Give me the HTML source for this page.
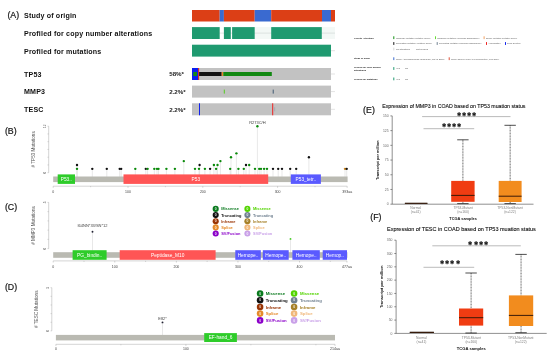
<!DOCTYPE html>
<html lang="en"><head><meta charset="utf-8"><title>Figure</title>
<style>
html,body{margin:0;padding:0;background:#fff;}
body{width:550px;height:358px;overflow:hidden;}
svg{display:block;font-family:"Liberation Sans", sans-serif;filter:blur(0.38px);}
</style></head><body>
<svg width="550" height="358" viewBox="0 0 550 358">
<rect width="550" height="358" fill="#fff"/>
<text x="7.4" y="17.6" font-size="8.8" font-weight="normal" fill="#1a1a1a" text-anchor="start" stroke="#1a1a1a" stroke-width="0.22" letter-spacing="0">(A)</text>
<text x="24" y="17.9" font-size="7.1" font-weight="bold" fill="#111" text-anchor="start" letter-spacing="0.17">Study of origin</text>
<text x="24" y="35.7" font-size="7.1" font-weight="bold" fill="#111" text-anchor="start" letter-spacing="0.17">Profiled for copy number alterations</text>
<text x="24" y="53.5" font-size="7.1" font-weight="bold" fill="#111" text-anchor="start" letter-spacing="0.17">Profiled for mutations</text>
<text x="24" y="76.8" font-size="7.1" font-weight="bold" fill="#111" text-anchor="start" letter-spacing="0.17">TP53</text>
<text x="24" y="94.4" font-size="7.1" font-weight="bold" fill="#111" text-anchor="start" letter-spacing="0.17">MMP3</text>
<text x="24" y="112.1" font-size="7.1" font-weight="bold" fill="#111" text-anchor="start" letter-spacing="0.17">TESC</text>
<text x="169.2" y="76.2" font-size="6.2" font-weight="bold" fill="#222" text-anchor="start" >58%*</text>
<text x="169.2" y="94" font-size="6.2" font-weight="bold" fill="#222" text-anchor="start" >2.2%*</text>
<text x="169.2" y="111.6" font-size="6.2" font-weight="bold" fill="#222" text-anchor="start" >2.2%*</text>
<rect x="192.00" y="10.00" width="27.70" height="11.50" fill="#dc3f16" />
<rect x="219.70" y="10.00" width="4.20" height="11.50" fill="#3a6ad0" />
<rect x="223.90" y="10.00" width="30.80" height="11.50" fill="#dc3f16" />
<rect x="254.70" y="10.00" width="16.50" height="11.50" fill="#3a6ad0" />
<rect x="271.20" y="10.00" width="50.80" height="11.50" fill="#dc3f16" />
<rect x="322.00" y="10.00" width="9.00" height="11.50" fill="#3a6ad0" />
<rect x="331.00" y="10.00" width="4.00" height="11.50" fill="#dc3f16" />
<rect x="254.70" y="27.10" width="16.50" height="11.90" fill="#f3f8f6" />
<rect x="322.00" y="27.10" width="13.00" height="11.90" fill="#f3f8f6" />
<line x1="192.00" y1="33.10" x2="335.00" y2="33.10" stroke="#cdd3d0" stroke-width="0.6" />
<rect x="192.00" y="27.10" width="27.70" height="11.90" fill="#1f9a70" />
<rect x="223.90" y="27.10" width="6.90" height="11.90" fill="#1f9a70" />
<rect x="232.10" y="27.10" width="22.60" height="11.90" fill="#1f9a70" />
<rect x="271.20" y="27.10" width="50.60" height="11.90" fill="#1f9a70" />
<line x1="331.00" y1="50.70" x2="335.00" y2="50.70" stroke="#cfcfcf" stroke-width="0.6" />
<rect x="192.00" y="44.70" width="139.00" height="11.90" fill="#1f9a70" />
<rect x="192.00" y="68.00" width="139.00" height="12.00" fill="#c2c2c2" />
<line x1="331.00" y1="74.00" x2="335.00" y2="74.00" stroke="#d0d0d0" stroke-width="0.6" />
<rect x="192.00" y="85.60" width="139.00" height="12.00" fill="#c2c2c2" />
<line x1="331.00" y1="91.60" x2="335.00" y2="91.60" stroke="#d0d0d0" stroke-width="0.6" />
<rect x="192.00" y="103.30" width="139.00" height="12.00" fill="#c2c2c2" />
<line x1="331.00" y1="109.30" x2="335.00" y2="109.30" stroke="#d0d0d0" stroke-width="0.6" />
<rect x="192.00" y="68.00" width="6.30" height="12.00" fill="#0a1cf0" />
<rect x="198.20" y="68.00" width="0.90" height="12.00" fill="#ee1111" />
<rect x="193.30" y="72.00" width="3.70" height="4.00" fill="#128a12" />
<rect x="199.10" y="72.00" width="22.60" height="4.00" fill="#111" />
<rect x="221.70" y="72.00" width="1.60" height="4.00" fill="#e8862a" />
<rect x="223.30" y="72.00" width="48.50" height="4.00" fill="#118811" />
<rect x="223.80" y="89.60" width="1.00" height="4.00" fill="#55cc22" />
<rect x="272.60" y="89.60" width="1.40" height="4.00" fill="#66788a" />
<rect x="199.00" y="103.30" width="1.00" height="12.00" fill="#1122ee" />
<rect x="272.20" y="103.30" width="1.00" height="12.00" fill="#ee2222" />
<rect x="274.00" y="107.30" width="1.20" height="4.00" fill="#a8b0b8" />
<text x="354" y="38.5" font-size="2.4" font-weight="bold" fill="#222" text-anchor="start" textLength="19.6" lengthAdjust="spacingAndGlyphs">Genetic Alteration</text>
<text x="354" y="59.300000000000004" font-size="2.4" font-weight="bold" fill="#222" text-anchor="start" textLength="16.0" lengthAdjust="spacingAndGlyphs">Study of origin</text>
<text x="354" y="68.1" font-size="2.4" font-weight="bold" fill="#222" text-anchor="start" textLength="27.0" lengthAdjust="spacingAndGlyphs">Profiled for copy number</text>
<text x="354" y="71.1" font-size="2.4" font-weight="bold" fill="#222" text-anchor="start" textLength="12.0" lengthAdjust="spacingAndGlyphs">alterations</text>
<text x="354" y="79.5" font-size="2.4" font-weight="bold" fill="#222" text-anchor="start" textLength="23.5" lengthAdjust="spacingAndGlyphs">Profiled for mutations</text>
<rect x="393.30" y="36.30" width="1.00" height="2.80" fill="#109010" />
<text x="396" y="38.6" font-size="2.4" font-weight="normal" fill="#555" text-anchor="start" textLength="34.5" lengthAdjust="spacingAndGlyphs">Missense Mutation (putative driver)</text>
<rect x="435.00" y="36.30" width="1.00" height="2.80" fill="#66dd33" />
<text x="437.2" y="38.6" font-size="2.4" font-weight="normal" fill="#555" text-anchor="start" textLength="42.3" lengthAdjust="spacingAndGlyphs">Missense Mutation (unknown significance)</text>
<rect x="483.60" y="36.30" width="1.00" height="2.80" fill="#f0a060" />
<text x="486" y="38.6" font-size="2.4" font-weight="normal" fill="#555" text-anchor="start" textLength="31.3" lengthAdjust="spacingAndGlyphs">Splice Mutation (putative driver)</text>
<rect x="393.30" y="42.10" width="1.00" height="2.80" fill="#111" />
<text x="396" y="44.4" font-size="2.4" font-weight="normal" fill="#555" text-anchor="start" textLength="36.0" lengthAdjust="spacingAndGlyphs">Truncating Mutation (putative driver)</text>
<rect x="436.70" y="42.10" width="1.00" height="2.80" fill="#708090" />
<text x="439" y="44.4" font-size="2.4" font-weight="normal" fill="#555" text-anchor="start" textLength="42.5" lengthAdjust="spacingAndGlyphs">Truncating Mutation (unknown significance)</text>
<rect x="486.00" y="42.10" width="1.00" height="2.80" fill="#ee2222" />
<text x="488.3" y="44.4" font-size="2.4" font-weight="normal" fill="#555" text-anchor="start" textLength="12.2" lengthAdjust="spacingAndGlyphs">Amplification</text>
<rect x="505.00" y="42.10" width="1.00" height="2.80" fill="#1122ee" />
<text x="507.3" y="44.4" font-size="2.4" font-weight="normal" fill="#555" text-anchor="start" textLength="13.2" lengthAdjust="spacingAndGlyphs">Deep Deletion</text>
<rect x="393.30" y="47.60" width="1.00" height="2.80" fill="#d8d8d8" />
<text x="396" y="49.9" font-size="2.4" font-weight="normal" fill="#555" text-anchor="start" textLength="14.0" lengthAdjust="spacingAndGlyphs">No alterations</text>
<text x="416" y="49.9" font-size="2.4" font-weight="normal" fill="#555" text-anchor="start" textLength="12.0" lengthAdjust="spacingAndGlyphs">Not profiled</text>
<rect x="393.30" y="57.30" width="1.00" height="2.80" fill="#3a6ad0" />
<text x="396" y="59.6" font-size="2.4" font-weight="normal" fill="#555" text-anchor="start" textLength="48.5" lengthAdjust="spacingAndGlyphs">Colon Adenocarcinoma (CaseCCC, PNAS 2015)</text>
<rect x="448.70" y="57.30" width="1.00" height="2.80" fill="#e05038" />
<text x="451" y="59.6" font-size="2.4" font-weight="normal" fill="#555" text-anchor="start" textLength="48.3" lengthAdjust="spacingAndGlyphs">Colon Cancer (CPTAC-2 Prospective, Cell 2019)</text>
<rect x="393.30" y="67.10" width="1.00" height="2.80" fill="#1f9a70" />
<text x="396" y="69.39999999999999" font-size="2.4" font-weight="normal" fill="#555" text-anchor="start" >Yes</text>
<text x="405" y="69.39999999999999" font-size="2.4" font-weight="normal" fill="#555" text-anchor="start" >No</text>
<rect x="393.30" y="77.50" width="1.00" height="2.80" fill="#1f9a70" />
<text x="396" y="79.8" font-size="2.4" font-weight="normal" fill="#555" text-anchor="start" >Yes</text>
<text x="405" y="79.8" font-size="2.4" font-weight="normal" fill="#555" text-anchor="start" >No</text>
<text x="4.9" y="134.3" font-size="8.8" font-weight="normal" fill="#1a1a1a" text-anchor="start" stroke="#1a1a1a" stroke-width="0.22" letter-spacing="0">(B)</text>
<line x1="48.70" y1="126.20" x2="48.70" y2="172.70" stroke="#a8a8a8" stroke-width="0.5" />
<line x1="47.50" y1="126.20" x2="48.70" y2="126.20" stroke="#a8a8a8" stroke-width="0.5" />
<line x1="47.50" y1="133.95" x2="48.70" y2="133.95" stroke="#a8a8a8" stroke-width="0.5" />
<line x1="47.50" y1="141.70" x2="48.70" y2="141.70" stroke="#a8a8a8" stroke-width="0.5" />
<line x1="47.50" y1="149.45" x2="48.70" y2="149.45" stroke="#a8a8a8" stroke-width="0.5" />
<line x1="47.50" y1="157.20" x2="48.70" y2="157.20" stroke="#a8a8a8" stroke-width="0.5" />
<line x1="47.50" y1="164.95" x2="48.70" y2="164.95" stroke="#a8a8a8" stroke-width="0.5" />
<line x1="47.50" y1="172.70" x2="48.70" y2="172.70" stroke="#a8a8a8" stroke-width="0.5" />
<text transform="translate(45.5,126.2) rotate(-90)" font-size="3.1" fill="#444" text-anchor="middle">12</text>
<text transform="translate(45.5,172.7) rotate(-90)" font-size="3.1" fill="#444" text-anchor="middle">0</text>
<text transform="translate(34.5,149.45) rotate(-90)" font-size="4.65" fill="#555" text-anchor="middle"># TP53 Mutations</text>
<line x1="77.00" y1="168.82" x2="77.00" y2="177.00" stroke="#d0d0d0" stroke-width="0.5" />
<line x1="77.00" y1="164.95" x2="77.00" y2="177.00" stroke="#d0d0d0" stroke-width="0.5" />
<line x1="92.30" y1="168.82" x2="92.30" y2="177.00" stroke="#d0d0d0" stroke-width="0.5" />
<line x1="106.80" y1="168.82" x2="106.80" y2="177.00" stroke="#d0d0d0" stroke-width="0.5" />
<line x1="119.70" y1="168.82" x2="119.70" y2="177.00" stroke="#d0d0d0" stroke-width="0.5" />
<line x1="121.20" y1="168.82" x2="121.20" y2="177.00" stroke="#d0d0d0" stroke-width="0.5" />
<line x1="135.30" y1="168.82" x2="135.30" y2="177.00" stroke="#d0d0d0" stroke-width="0.5" />
<line x1="145.80" y1="168.82" x2="145.80" y2="177.00" stroke="#d0d0d0" stroke-width="0.5" />
<line x1="147.60" y1="168.82" x2="147.60" y2="177.00" stroke="#d0d0d0" stroke-width="0.5" />
<line x1="154.30" y1="168.82" x2="154.30" y2="177.00" stroke="#d0d0d0" stroke-width="0.5" />
<line x1="157.00" y1="168.82" x2="157.00" y2="177.00" stroke="#d0d0d0" stroke-width="0.5" />
<line x1="158.50" y1="168.82" x2="158.50" y2="177.00" stroke="#d0d0d0" stroke-width="0.5" />
<line x1="166.40" y1="168.82" x2="166.40" y2="177.00" stroke="#d0d0d0" stroke-width="0.5" />
<line x1="174.90" y1="168.82" x2="174.90" y2="177.00" stroke="#d0d0d0" stroke-width="0.5" />
<line x1="183.80" y1="161.07" x2="183.80" y2="177.00" stroke="#d0d0d0" stroke-width="0.5" />
<line x1="195.00" y1="168.82" x2="195.00" y2="177.00" stroke="#d0d0d0" stroke-width="0.5" />
<line x1="199.00" y1="168.82" x2="199.00" y2="177.00" stroke="#d0d0d0" stroke-width="0.5" />
<line x1="199.60" y1="164.95" x2="199.60" y2="177.00" stroke="#d0d0d0" stroke-width="0.5" />
<line x1="204.90" y1="168.82" x2="204.90" y2="177.00" stroke="#d0d0d0" stroke-width="0.5" />
<line x1="210.10" y1="168.82" x2="210.10" y2="177.00" stroke="#d0d0d0" stroke-width="0.5" />
<line x1="213.90" y1="164.95" x2="213.90" y2="177.00" stroke="#d0d0d0" stroke-width="0.5" />
<line x1="216.10" y1="168.82" x2="216.10" y2="177.00" stroke="#d0d0d0" stroke-width="0.5" />
<line x1="217.50" y1="164.95" x2="217.50" y2="177.00" stroke="#d0d0d0" stroke-width="0.5" />
<line x1="220.40" y1="161.07" x2="220.40" y2="177.00" stroke="#d0d0d0" stroke-width="0.5" />
<line x1="230.20" y1="168.82" x2="230.20" y2="177.00" stroke="#d0d0d0" stroke-width="0.5" />
<line x1="231.00" y1="157.20" x2="231.00" y2="177.00" stroke="#d0d0d0" stroke-width="0.5" />
<line x1="236.40" y1="153.32" x2="236.40" y2="177.00" stroke="#d0d0d0" stroke-width="0.5" />
<line x1="238.40" y1="168.82" x2="238.40" y2="177.00" stroke="#d0d0d0" stroke-width="0.5" />
<line x1="243.80" y1="168.82" x2="243.80" y2="177.00" stroke="#d0d0d0" stroke-width="0.5" />
<line x1="246.00" y1="164.95" x2="246.00" y2="177.00" stroke="#d0d0d0" stroke-width="0.5" />
<line x1="249.20" y1="164.95" x2="249.20" y2="177.00" stroke="#d0d0d0" stroke-width="0.5" />
<line x1="255.00" y1="168.82" x2="255.00" y2="177.00" stroke="#d0d0d0" stroke-width="0.5" />
<line x1="257.40" y1="126.20" x2="257.40" y2="177.00" stroke="#d0d0d0" stroke-width="0.5" />
<line x1="259.20" y1="168.82" x2="259.20" y2="177.00" stroke="#d0d0d0" stroke-width="0.5" />
<line x1="261.00" y1="168.82" x2="261.00" y2="177.00" stroke="#d0d0d0" stroke-width="0.5" />
<line x1="264.10" y1="168.82" x2="264.10" y2="177.00" stroke="#d0d0d0" stroke-width="0.5" />
<line x1="267.00" y1="168.82" x2="267.00" y2="177.00" stroke="#d0d0d0" stroke-width="0.5" />
<line x1="273.00" y1="168.82" x2="273.00" y2="177.00" stroke="#d0d0d0" stroke-width="0.5" />
<line x1="278.20" y1="168.82" x2="278.20" y2="177.00" stroke="#d0d0d0" stroke-width="0.5" />
<line x1="282.00" y1="168.82" x2="282.00" y2="177.00" stroke="#d0d0d0" stroke-width="0.5" />
<line x1="290.20" y1="168.82" x2="290.20" y2="177.00" stroke="#d0d0d0" stroke-width="0.5" />
<line x1="296.20" y1="168.82" x2="296.20" y2="177.00" stroke="#d0d0d0" stroke-width="0.5" />
<line x1="308.90" y1="157.20" x2="308.90" y2="177.00" stroke="#d0d0d0" stroke-width="0.5" />
<line x1="345.00" y1="168.82" x2="345.00" y2="177.00" stroke="#d0d0d0" stroke-width="0.5" />
<line x1="346.70" y1="168.82" x2="346.70" y2="177.00" stroke="#d0d0d0" stroke-width="0.5" />
<rect x="53.20" y="176.50" width="294.40" height="5.60" fill="#babab2" />
<rect x="57.70" y="174.40" width="17.30" height="9.50" fill="#2ecc2a" />
<text x="66.35" y="180.88" font-size="4.8" font-weight="normal" fill="#fff" text-anchor="middle" >P53..</text>
<rect x="123.50" y="174.40" width="144.70" height="9.50" fill="#ff5555" />
<text x="195.85" y="180.88" font-size="4.8" font-weight="normal" fill="#fff" text-anchor="middle" >P53</text>
<rect x="290.80" y="174.40" width="30.10" height="9.50" fill="#5a5aff" />
<text x="305.85" y="180.88" font-size="4.8" font-weight="normal" fill="#fff" text-anchor="middle" >P53_tetr..</text>
<circle cx="77.00" cy="168.82" r="1.18" fill="#0a8a0a" />
<circle cx="77.00" cy="164.95" r="1.18" fill="#111" />
<circle cx="92.30" cy="168.82" r="1.18" fill="#111" />
<circle cx="106.80" cy="168.82" r="1.18" fill="#111" />
<circle cx="119.70" cy="168.82" r="1.18" fill="#111" />
<circle cx="121.20" cy="168.82" r="1.18" fill="#111" />
<circle cx="135.30" cy="168.82" r="1.18" fill="#0a8a0a" />
<circle cx="145.80" cy="168.82" r="1.18" fill="#111" />
<circle cx="147.60" cy="168.82" r="1.18" fill="#0a8a0a" />
<circle cx="154.30" cy="168.82" r="1.18" fill="#0a8a0a" />
<circle cx="157.00" cy="168.82" r="1.18" fill="#0a8a0a" />
<circle cx="158.50" cy="168.82" r="1.18" fill="#0a8a0a" />
<circle cx="166.40" cy="168.82" r="1.18" fill="#0a8a0a" />
<circle cx="174.90" cy="168.82" r="1.18" fill="#0a8a0a" />
<circle cx="183.80" cy="161.07" r="1.18" fill="#0a8a0a" />
<circle cx="195.00" cy="168.82" r="1.18" fill="#0a8a0a" />
<circle cx="199.00" cy="168.82" r="1.18" fill="#0a8a0a" />
<circle cx="199.60" cy="164.95" r="1.18" fill="#111" />
<circle cx="204.90" cy="168.82" r="1.18" fill="#0a8a0a" />
<circle cx="210.10" cy="168.82" r="1.18" fill="#111" />
<circle cx="213.90" cy="164.95" r="1.18" fill="#0a8a0a" />
<circle cx="216.10" cy="168.82" r="1.18" fill="#0a8a0a" />
<circle cx="217.50" cy="164.95" r="1.18" fill="#0a8a0a" />
<circle cx="220.40" cy="161.07" r="1.18" fill="#0a8a0a" />
<circle cx="230.20" cy="168.82" r="1.18" fill="#0a8a0a" />
<circle cx="231.00" cy="157.20" r="1.18" fill="#0a8a0a" />
<circle cx="236.40" cy="153.32" r="1.18" fill="#0a8a0a" />
<circle cx="238.40" cy="168.82" r="1.18" fill="#0a8a0a" />
<circle cx="243.80" cy="168.82" r="1.18" fill="#0a8a0a" />
<circle cx="246.00" cy="164.95" r="1.18" fill="#111" />
<circle cx="249.20" cy="164.95" r="1.18" fill="#0a8a0a" />
<circle cx="255.00" cy="168.82" r="1.18" fill="#0a8a0a" />
<circle cx="257.40" cy="126.20" r="1.18" fill="#0a8a0a" />
<circle cx="259.20" cy="168.82" r="1.18" fill="#0a8a0a" />
<circle cx="261.00" cy="168.82" r="1.18" fill="#0a8a0a" />
<circle cx="264.10" cy="168.82" r="1.18" fill="#0a8a0a" />
<circle cx="267.00" cy="168.82" r="1.18" fill="#0a8a0a" />
<circle cx="273.00" cy="168.82" r="1.18" fill="#111" />
<circle cx="278.20" cy="168.82" r="1.18" fill="#111" />
<circle cx="282.00" cy="168.82" r="1.18" fill="#111" />
<circle cx="290.20" cy="168.82" r="1.18" fill="#111" />
<circle cx="296.20" cy="168.82" r="1.18" fill="#111" />
<circle cx="308.90" cy="157.20" r="1.18" fill="#111" />
<circle cx="345.00" cy="168.82" r="1.18" fill="#d08a20" />
<circle cx="346.70" cy="168.82" r="1.18" fill="#111" />
<text x="257.4" y="123.6" font-size="4.0" font-weight="normal" fill="#444" text-anchor="middle" >R273C/H</text>
<line x1="53.20" y1="186.20" x2="347.16" y2="186.20" stroke="#a8a8a8" stroke-width="0.5" />
<line x1="53.20" y1="186.20" x2="53.20" y2="187.80" stroke="#a8a8a8" stroke-width="0.5" />
<text x="53.2" y="192.5" font-size="3.5" font-weight="normal" fill="#444" text-anchor="middle" >0</text>
<line x1="128.00" y1="186.20" x2="128.00" y2="187.80" stroke="#a8a8a8" stroke-width="0.5" />
<text x="128.0" y="192.5" font-size="3.5" font-weight="normal" fill="#444" text-anchor="middle" >100</text>
<line x1="202.80" y1="186.20" x2="202.80" y2="187.80" stroke="#a8a8a8" stroke-width="0.5" />
<text x="202.8" y="192.5" font-size="3.5" font-weight="normal" fill="#444" text-anchor="middle" >200</text>
<line x1="277.60" y1="186.20" x2="277.60" y2="187.80" stroke="#a8a8a8" stroke-width="0.5" />
<text x="277.6" y="192.5" font-size="3.5" font-weight="normal" fill="#444" text-anchor="middle" >300</text>
<line x1="90.60" y1="186.20" x2="90.60" y2="187.20" stroke="#a8a8a8" stroke-width="0.5" />
<line x1="165.40" y1="186.20" x2="165.40" y2="187.20" stroke="#a8a8a8" stroke-width="0.5" />
<line x1="240.20" y1="186.20" x2="240.20" y2="187.20" stroke="#a8a8a8" stroke-width="0.5" />
<line x1="315.00" y1="186.20" x2="315.00" y2="187.20" stroke="#a8a8a8" stroke-width="0.5" />
<line x1="347.16" y1="186.20" x2="347.16" y2="187.80" stroke="#a8a8a8" stroke-width="0.5" />
<text x="347.16" y="192.5" font-size="3.6" font-weight="normal" fill="#444" text-anchor="middle" >393aa</text>
<text x="4.9" y="209.5" font-size="8.8" font-weight="normal" fill="#1a1a1a" text-anchor="start" stroke="#1a1a1a" stroke-width="0.22" letter-spacing="0">(C)</text>
<line x1="48.70" y1="202.40" x2="48.70" y2="248.60" stroke="#a8a8a8" stroke-width="0.5" />
<line x1="47.50" y1="202.40" x2="48.70" y2="202.40" stroke="#a8a8a8" stroke-width="0.5" />
<line x1="47.50" y1="211.64" x2="48.70" y2="211.64" stroke="#a8a8a8" stroke-width="0.5" />
<line x1="47.50" y1="220.88" x2="48.70" y2="220.88" stroke="#a8a8a8" stroke-width="0.5" />
<line x1="47.50" y1="230.12" x2="48.70" y2="230.12" stroke="#a8a8a8" stroke-width="0.5" />
<line x1="47.50" y1="239.36" x2="48.70" y2="239.36" stroke="#a8a8a8" stroke-width="0.5" />
<line x1="47.50" y1="248.60" x2="48.70" y2="248.60" stroke="#a8a8a8" stroke-width="0.5" />
<text transform="translate(45.5,202.4) rotate(-90)" font-size="3.1" fill="#444" text-anchor="middle">5</text>
<text transform="translate(45.5,248.6) rotate(-90)" font-size="3.1" fill="#444" text-anchor="middle">0</text>
<text transform="translate(34.5,225.5) rotate(-90)" font-size="4.65" fill="#555" text-anchor="middle"># MMP3 Mutations</text>
<line x1="92.50" y1="231.80" x2="92.50" y2="253.00" stroke="#d0d0d0" stroke-width="0.5" />
<line x1="290.50" y1="239.00" x2="290.50" y2="253.00" stroke="#d0d0d0" stroke-width="0.5" />
<rect x="53.20" y="252.20" width="294.20" height="5.60" fill="#babab2" />
<rect x="72.60" y="250.20" width="34.00" height="9.60" fill="#2ecc2a" />
<text x="89.6" y="256.73" font-size="4.8" font-weight="normal" fill="#fff" text-anchor="middle" >PG_bindin..</text>
<rect x="119.70" y="250.20" width="95.90" height="9.60" fill="#ff5555" />
<text x="167.65" y="256.73" font-size="4.8" font-weight="normal" fill="#fff" text-anchor="middle" >Peptidase_M10</text>
<rect x="235.30" y="250.20" width="25.50" height="9.60" fill="#5a5aff" />
<text x="248.05" y="256.73" font-size="4.8" font-weight="normal" fill="#fff" text-anchor="middle" >Hemope..</text>
<rect x="262.80" y="250.20" width="25.90" height="9.60" fill="#5a5aff" />
<text x="275.75" y="256.73" font-size="4.8" font-weight="normal" fill="#fff" text-anchor="middle" >Hemope..</text>
<rect x="292.40" y="250.20" width="27.40" height="9.60" fill="#5a5aff" />
<text x="306.1" y="256.73" font-size="4.8" font-weight="normal" fill="#fff" text-anchor="middle" >Hemope..</text>
<rect x="322.70" y="250.20" width="24.30" height="9.60" fill="#5a5aff" />
<text x="334.85" y="256.73" font-size="4.8" font-weight="normal" fill="#fff" text-anchor="middle" >Hemop..</text>
<circle cx="92.50" cy="231.80" r="0.95" fill="#223" />
<circle cx="290.50" cy="238.90" r="0.95" fill="#44cc22" />
<text x="92.5" y="226.6" font-size="4.0" font-weight="normal" fill="#444" text-anchor="middle" >I64NN*33/SN*12</text>
<line x1="53.20" y1="260.90" x2="346.94" y2="260.90" stroke="#a8a8a8" stroke-width="0.5" />
<line x1="53.20" y1="260.90" x2="53.20" y2="262.50" stroke="#a8a8a8" stroke-width="0.5" />
<text x="53.2" y="268.2" font-size="3.5" font-weight="normal" fill="#444" text-anchor="middle" >0</text>
<line x1="114.78" y1="260.90" x2="114.78" y2="262.50" stroke="#a8a8a8" stroke-width="0.5" />
<text x="114.78" y="268.2" font-size="3.5" font-weight="normal" fill="#444" text-anchor="middle" >100</text>
<line x1="176.36" y1="260.90" x2="176.36" y2="262.50" stroke="#a8a8a8" stroke-width="0.5" />
<text x="176.36" y="268.2" font-size="3.5" font-weight="normal" fill="#444" text-anchor="middle" >200</text>
<line x1="237.94" y1="260.90" x2="237.94" y2="262.50" stroke="#a8a8a8" stroke-width="0.5" />
<text x="237.94" y="268.2" font-size="3.5" font-weight="normal" fill="#444" text-anchor="middle" >300</text>
<line x1="299.52" y1="260.90" x2="299.52" y2="262.50" stroke="#a8a8a8" stroke-width="0.5" />
<text x="299.52" y="268.2" font-size="3.5" font-weight="normal" fill="#444" text-anchor="middle" >400</text>
<line x1="83.99" y1="260.90" x2="83.99" y2="261.90" stroke="#a8a8a8" stroke-width="0.5" />
<line x1="145.57" y1="260.90" x2="145.57" y2="261.90" stroke="#a8a8a8" stroke-width="0.5" />
<line x1="207.15" y1="260.90" x2="207.15" y2="261.90" stroke="#a8a8a8" stroke-width="0.5" />
<line x1="268.73" y1="260.90" x2="268.73" y2="261.90" stroke="#a8a8a8" stroke-width="0.5" />
<line x1="330.31" y1="260.90" x2="330.31" y2="261.90" stroke="#a8a8a8" stroke-width="0.5" />
<line x1="346.94" y1="260.90" x2="346.94" y2="262.50" stroke="#a8a8a8" stroke-width="0.5" />
<text x="346.94" y="268.2" font-size="3.6" font-weight="normal" fill="#444" text-anchor="middle" >477aa</text>
<circle cx="215.70" cy="208.90" r="3.05" fill="#0a7a1e" />
<text x="215.7" y="210.05" font-size="3.3" font-weight="bold" fill="#fff" text-anchor="middle" fill-opacity="0.85">0</text>
<text x="221.2" y="210.32" font-size="3.95" font-weight="bold" fill="#0a7a1e" text-anchor="start" >Missense</text>
<circle cx="247.40" cy="208.90" r="3.05" fill="#53d400" />
<text x="247.4" y="210.05" font-size="3.3" font-weight="bold" fill="#fff" text-anchor="middle" fill-opacity="0.85">0</text>
<text x="253" y="210.32" font-size="3.95" font-weight="bold" fill="#53d400" text-anchor="start" >Missense</text>
<circle cx="215.70" cy="215.10" r="3.05" fill="#111111" />
<text x="215.7" y="216.25" font-size="3.3" font-weight="bold" fill="#fff" text-anchor="middle" fill-opacity="0.85">0</text>
<text x="221.2" y="216.52" font-size="3.95" font-weight="bold" fill="#111111" text-anchor="start" >Truncating</text>
<circle cx="247.40" cy="215.10" r="3.05" fill="#708090" />
<text x="247.4" y="216.25" font-size="3.3" font-weight="bold" fill="#fff" text-anchor="middle" fill-opacity="0.85">0</text>
<text x="253" y="216.52" font-size="3.95" font-weight="bold" fill="#708090" text-anchor="start" >Truncating</text>
<circle cx="215.70" cy="221.20" r="3.05" fill="#993404" />
<text x="215.7" y="222.35" font-size="3.3" font-weight="bold" fill="#fff" text-anchor="middle" fill-opacity="0.85">0</text>
<text x="221.2" y="222.62" font-size="3.95" font-weight="bold" fill="#993404" text-anchor="start" >Inframe</text>
<circle cx="247.40" cy="221.20" r="3.05" fill="#a68028" />
<text x="247.4" y="222.35" font-size="3.3" font-weight="bold" fill="#fff" text-anchor="middle" fill-opacity="0.85">0</text>
<text x="253" y="222.62" font-size="3.95" font-weight="bold" fill="#a68028" text-anchor="start" >Inframe</text>
<circle cx="215.70" cy="227.40" r="3.05" fill="#e58a2a" />
<text x="215.7" y="228.55" font-size="3.3" font-weight="bold" fill="#fff" text-anchor="middle" fill-opacity="0.85">0</text>
<text x="221.2" y="228.82" font-size="3.95" font-weight="bold" fill="#e58a2a" text-anchor="start" >Splice</text>
<circle cx="247.40" cy="227.40" r="3.05" fill="#f0b87b" />
<text x="247.4" y="228.55" font-size="3.3" font-weight="bold" fill="#fff" text-anchor="middle" fill-opacity="0.85">0</text>
<text x="253" y="228.82" font-size="3.95" font-weight="bold" fill="#f0b87b" text-anchor="start" >Splice</text>
<circle cx="215.70" cy="233.50" r="3.05" fill="#8b00c9" />
<text x="215.7" y="234.65" font-size="3.3" font-weight="bold" fill="#fff" text-anchor="middle" fill-opacity="0.85">0</text>
<text x="221.2" y="234.92" font-size="3.95" font-weight="bold" fill="#8b00c9" text-anchor="start" >SV/Fusion</text>
<circle cx="247.40" cy="233.50" r="3.05" fill="#c9a0e8" />
<text x="247.4" y="234.65" font-size="3.3" font-weight="bold" fill="#fff" text-anchor="middle" fill-opacity="0.85">0</text>
<text x="253" y="234.92" font-size="3.95" font-weight="bold" fill="#c9a0e8" text-anchor="start" >SV/Fusion</text>
<text x="4.9" y="289.5" font-size="8.8" font-weight="normal" fill="#1a1a1a" text-anchor="start" stroke="#1a1a1a" stroke-width="0.22" letter-spacing="0">(D)</text>
<line x1="51.80" y1="287.70" x2="51.80" y2="330.90" stroke="#a8a8a8" stroke-width="0.5" />
<line x1="50.60" y1="287.70" x2="51.80" y2="287.70" stroke="#a8a8a8" stroke-width="0.5" />
<line x1="50.60" y1="296.34" x2="51.80" y2="296.34" stroke="#a8a8a8" stroke-width="0.5" />
<line x1="50.60" y1="304.98" x2="51.80" y2="304.98" stroke="#a8a8a8" stroke-width="0.5" />
<line x1="50.60" y1="313.62" x2="51.80" y2="313.62" stroke="#a8a8a8" stroke-width="0.5" />
<line x1="50.60" y1="322.26" x2="51.80" y2="322.26" stroke="#a8a8a8" stroke-width="0.5" />
<line x1="50.60" y1="330.90" x2="51.80" y2="330.90" stroke="#a8a8a8" stroke-width="0.5" />
<text transform="translate(48.599999999999994,287.7) rotate(-90)" font-size="3.1" fill="#444" text-anchor="middle">5</text>
<text transform="translate(48.599999999999994,330.9) rotate(-90)" font-size="3.1" fill="#444" text-anchor="middle">0</text>
<text transform="translate(37.6,309.29999999999995) rotate(-90)" font-size="4.65" fill="#555" text-anchor="middle"># TESC Mutations</text>
<line x1="162.50" y1="322.40" x2="162.50" y2="335.50" stroke="#d0d0d0" stroke-width="0.5" />
<rect x="55.90" y="334.90" width="279.10" height="5.50" fill="#babab2" />
<rect x="204.20" y="333.10" width="32.70" height="8.90" fill="#2ecc2a" />
<text x="220.55" y="339.28" font-size="4.8" font-weight="normal" fill="#fff" text-anchor="middle" >EF-hand_6</text>
<circle cx="162.50" cy="322.40" r="0.95" fill="#223" />
<text x="162.5" y="319.5" font-size="3.9" font-weight="normal" fill="#444" text-anchor="middle" >E82*</text>
<line x1="55.90" y1="344.30" x2="335.01" y2="344.30" stroke="#a8a8a8" stroke-width="0.5" />
<line x1="55.90" y1="344.30" x2="55.90" y2="345.90" stroke="#a8a8a8" stroke-width="0.5" />
<text x="55.9" y="350.4" font-size="3.5" font-weight="normal" fill="#444" text-anchor="middle" >0</text>
<line x1="185.90" y1="344.30" x2="185.90" y2="345.90" stroke="#a8a8a8" stroke-width="0.5" />
<text x="185.9" y="350.4" font-size="3.5" font-weight="normal" fill="#444" text-anchor="middle" >100</text>
<line x1="120.90" y1="344.30" x2="120.90" y2="345.30" stroke="#a8a8a8" stroke-width="0.5" />
<line x1="250.90" y1="344.30" x2="250.90" y2="345.30" stroke="#a8a8a8" stroke-width="0.5" />
<line x1="315.90" y1="344.30" x2="315.90" y2="345.30" stroke="#a8a8a8" stroke-width="0.5" />
<line x1="335.01" y1="344.30" x2="335.01" y2="345.90" stroke="#a8a8a8" stroke-width="0.5" />
<text x="335.01" y="350.4" font-size="3.6" font-weight="normal" fill="#444" text-anchor="middle" >214aa</text>
<circle cx="260.10" cy="293.50" r="3.3" fill="#0a7a1e" />
<text x="260.1" y="294.65" font-size="3.3" font-weight="bold" fill="#fff" text-anchor="middle" fill-opacity="0.85">0</text>
<text x="265.7" y="295.05" font-size="4.3" font-weight="bold" fill="#0a7a1e" text-anchor="start" >Missense</text>
<circle cx="294.10" cy="293.50" r="3.3" fill="#53d400" />
<text x="294.1" y="294.65" font-size="3.3" font-weight="bold" fill="#fff" text-anchor="middle" fill-opacity="0.85">0</text>
<text x="299.9" y="295.05" font-size="4.3" font-weight="bold" fill="#53d400" text-anchor="start" >Missense</text>
<circle cx="260.10" cy="300.20" r="3.3" fill="#111111" />
<text x="260.1" y="301.35" font-size="3.3" font-weight="bold" fill="#fff" text-anchor="middle" fill-opacity="0.85">0</text>
<text x="265.7" y="301.75" font-size="4.3" font-weight="bold" fill="#111111" text-anchor="start" >Truncating</text>
<circle cx="294.10" cy="300.20" r="3.3" fill="#708090" />
<text x="294.1" y="301.35" font-size="3.3" font-weight="bold" fill="#fff" text-anchor="middle" fill-opacity="0.85">0</text>
<text x="299.9" y="301.75" font-size="4.3" font-weight="bold" fill="#708090" text-anchor="start" >Truncating</text>
<circle cx="260.10" cy="307.00" r="3.3" fill="#993404" />
<text x="260.1" y="308.15" font-size="3.3" font-weight="bold" fill="#fff" text-anchor="middle" fill-opacity="0.85">0</text>
<text x="265.7" y="308.55" font-size="4.3" font-weight="bold" fill="#993404" text-anchor="start" >Inframe</text>
<circle cx="294.10" cy="307.00" r="3.3" fill="#a68028" />
<text x="294.1" y="308.15" font-size="3.3" font-weight="bold" fill="#fff" text-anchor="middle" fill-opacity="0.85">0</text>
<text x="299.9" y="308.55" font-size="4.3" font-weight="bold" fill="#a68028" text-anchor="start" >Inframe</text>
<circle cx="260.10" cy="313.60" r="3.3" fill="#e58a2a" />
<text x="260.1" y="314.75" font-size="3.3" font-weight="bold" fill="#fff" text-anchor="middle" fill-opacity="0.85">0</text>
<text x="265.7" y="315.15" font-size="4.3" font-weight="bold" fill="#e58a2a" text-anchor="start" >Splice</text>
<circle cx="294.10" cy="313.60" r="3.3" fill="#f0b87b" />
<text x="294.1" y="314.75" font-size="3.3" font-weight="bold" fill="#fff" text-anchor="middle" fill-opacity="0.85">0</text>
<text x="299.9" y="315.15" font-size="4.3" font-weight="bold" fill="#f0b87b" text-anchor="start" >Splice</text>
<circle cx="260.10" cy="320.40" r="3.3" fill="#8b00c9" />
<text x="260.1" y="321.55" font-size="3.3" font-weight="bold" fill="#fff" text-anchor="middle" fill-opacity="0.85">0</text>
<text x="265.7" y="321.95" font-size="4.3" font-weight="bold" fill="#8b00c9" text-anchor="start" >SV/Fusion</text>
<circle cx="294.10" cy="320.40" r="3.3" fill="#c9a0e8" />
<text x="294.1" y="321.55" font-size="3.3" font-weight="bold" fill="#fff" text-anchor="middle" fill-opacity="0.85">0</text>
<text x="299.9" y="321.95" font-size="4.3" font-weight="bold" fill="#c9a0e8" text-anchor="start" >SV/Fusion</text>
<text x="363.1" y="112.6" font-size="8.8" font-weight="normal" fill="#1a1a1a" text-anchor="start" stroke="#1a1a1a" stroke-width="0.22" letter-spacing="0">(E)</text>
<text x="382.2" y="107.9" font-size="4.8" font-weight="normal" fill="#111" text-anchor="start" textLength="143.3" lengthAdjust="spacingAndGlyphs" stroke="#111" stroke-width="0.1">Expression of MMP3 in COAD based on TP53 muation status</text>
<line x1="392.20" y1="115.90" x2="392.20" y2="204.20" stroke="#4a4a4a" stroke-width="0.62" />
<line x1="392.20" y1="204.20" x2="533.50" y2="204.20" stroke="#4a4a4a" stroke-width="0.62" />
<line x1="390.40" y1="204.20" x2="392.20" y2="204.20" stroke="#444" stroke-width="0.6" />
<text x="388.6" y="205.4" font-size="3.4" font-weight="normal" fill="#666" text-anchor="end" >0</text>
<line x1="390.40" y1="189.48" x2="392.20" y2="189.48" stroke="#444" stroke-width="0.6" />
<text x="388.6" y="190.68" font-size="3.4" font-weight="normal" fill="#666" text-anchor="end" >25</text>
<line x1="390.40" y1="174.77" x2="392.20" y2="174.77" stroke="#444" stroke-width="0.6" />
<text x="388.6" y="175.97" font-size="3.4" font-weight="normal" fill="#666" text-anchor="end" >50</text>
<line x1="390.40" y1="160.05" x2="392.20" y2="160.05" stroke="#444" stroke-width="0.6" />
<text x="388.6" y="161.25" font-size="3.4" font-weight="normal" fill="#666" text-anchor="end" >75</text>
<line x1="390.40" y1="145.33" x2="392.20" y2="145.33" stroke="#444" stroke-width="0.6" />
<text x="388.6" y="146.53" font-size="3.4" font-weight="normal" fill="#666" text-anchor="end" >100</text>
<line x1="390.40" y1="130.62" x2="392.20" y2="130.62" stroke="#444" stroke-width="0.6" />
<text x="388.6" y="131.82" font-size="3.4" font-weight="normal" fill="#666" text-anchor="end" >125</text>
<line x1="390.40" y1="115.90" x2="392.20" y2="115.90" stroke="#444" stroke-width="0.6" />
<text x="388.6" y="117.1" font-size="3.4" font-weight="normal" fill="#666" text-anchor="end" >150</text>
<text transform="translate(379.0,160.2) rotate(-90)" font-size="3.88" font-weight="bold" fill="#111" text-anchor="middle">Transcript per million</text>
<rect x="404.90" y="202.90" width="22.50" height="0.90" fill="#222" />
<line x1="404.90" y1="203.30" x2="427.40" y2="203.30" stroke="#3a1a08" stroke-width="1.0" />
<line x1="462.90" y1="139.80" x2="462.90" y2="180.90" stroke="#333" stroke-width="0.75" stroke-dasharray="1 0.55"/>
<line x1="457.20" y1="139.80" x2="468.60" y2="139.80" stroke="#222" stroke-width="0.8" />
<line x1="462.90" y1="201.80" x2="462.90" y2="203.60" stroke="#333" stroke-width="0.75" stroke-dasharray="1 0.55"/>
<line x1="457.20" y1="203.60" x2="468.60" y2="203.60" stroke="#222" stroke-width="0.8" />
<rect x="451.20" y="180.90" width="23.40" height="20.90" fill="#f03c12" />
<line x1="451.20" y1="195.40" x2="474.60" y2="195.40" stroke="#3a1a08" stroke-width="1.0" />
<line x1="510.15" y1="125.30" x2="510.15" y2="180.90" stroke="#333" stroke-width="0.75" stroke-dasharray="1 0.55"/>
<line x1="504.45" y1="125.30" x2="515.85" y2="125.30" stroke="#222" stroke-width="0.8" />
<line x1="510.15" y1="202.00" x2="510.15" y2="203.60" stroke="#333" stroke-width="0.75" stroke-dasharray="1 0.55"/>
<line x1="504.45" y1="203.60" x2="515.85" y2="203.60" stroke="#222" stroke-width="0.8" />
<rect x="498.70" y="180.90" width="22.90" height="21.10" fill="#f28c1e" />
<line x1="498.70" y1="196.20" x2="521.60" y2="196.20" stroke="#3a1a08" stroke-width="1.0" />
<line x1="422.10" y1="116.60" x2="510.50" y2="116.60" stroke="#777" stroke-width="0.5" />
<text x="467.0" y="115.55000000000001" font-size="4.8" font-weight="normal" fill="#111" text-anchor="middle" letter-spacing="1.15" font-weight="bold" stroke="#111" stroke-width="0.25">✱✱✱✱</text>
<line x1="423.50" y1="128.70" x2="474.20" y2="128.70" stroke="#777" stroke-width="0.5" />
<text x="452.3" y="126.75" font-size="4.8" font-weight="normal" fill="#111" text-anchor="middle" letter-spacing="1.15" font-weight="bold" stroke="#111" stroke-width="0.25">✱✱✱✱</text>
<text x="415.7" y="208.8" font-size="3.35" font-weight="normal" fill="#808080" text-anchor="middle" >Normal</text>
<text x="415.7" y="212.7" font-size="3.35" font-weight="normal" fill="#808080" text-anchor="middle" >(n=41)</text>
<text x="463.1" y="208.8" font-size="3.35" font-weight="normal" fill="#808080" text-anchor="middle" >TP53-Mutant</text>
<text x="463.1" y="212.7" font-size="3.35" font-weight="normal" fill="#808080" text-anchor="middle" >(n=160)</text>
<text x="510" y="208.8" font-size="3.35" font-weight="normal" fill="#808080" text-anchor="middle" >TP53-NonMutant</text>
<text x="510" y="212.7" font-size="3.35" font-weight="normal" fill="#808080" text-anchor="middle" >(n=122)</text>
<text x="463.1" y="219.7" font-size="3.9" font-weight="bold" fill="#111" text-anchor="middle" >TCGA samples</text>
<text x="370.3" y="220.4" font-size="8.8" font-weight="normal" fill="#1a1a1a" text-anchor="start" stroke="#1a1a1a" stroke-width="0.22" letter-spacing="0">(F)</text>
<text x="387.0" y="231.0" font-size="4.8" font-weight="normal" fill="#111" text-anchor="start" textLength="148.8" lengthAdjust="spacingAndGlyphs" stroke="#111" stroke-width="0.1">Expression of TESC in COAD based on TP53 muation status</text>
<line x1="396.10" y1="240.20" x2="396.10" y2="333.40" stroke="#4a4a4a" stroke-width="0.62" />
<line x1="396.10" y1="333.40" x2="546.70" y2="333.40" stroke="#4a4a4a" stroke-width="0.62" />
<line x1="394.30" y1="333.40" x2="396.10" y2="333.40" stroke="#444" stroke-width="0.6" />
<text x="392.5" y="334.6" font-size="3.4" font-weight="normal" fill="#666" text-anchor="end" >0</text>
<line x1="394.30" y1="320.09" x2="396.10" y2="320.09" stroke="#444" stroke-width="0.6" />
<text x="392.5" y="321.29" font-size="3.4" font-weight="normal" fill="#666" text-anchor="end" >50</text>
<line x1="394.30" y1="306.77" x2="396.10" y2="306.77" stroke="#444" stroke-width="0.6" />
<text x="392.5" y="307.97" font-size="3.4" font-weight="normal" fill="#666" text-anchor="end" >100</text>
<line x1="394.30" y1="293.46" x2="396.10" y2="293.46" stroke="#444" stroke-width="0.6" />
<text x="392.5" y="294.66" font-size="3.4" font-weight="normal" fill="#666" text-anchor="end" >150</text>
<line x1="394.30" y1="280.14" x2="396.10" y2="280.14" stroke="#444" stroke-width="0.6" />
<text x="392.5" y="281.34" font-size="3.4" font-weight="normal" fill="#666" text-anchor="end" >200</text>
<line x1="394.30" y1="266.83" x2="396.10" y2="266.83" stroke="#444" stroke-width="0.6" />
<text x="392.5" y="268.03" font-size="3.4" font-weight="normal" fill="#666" text-anchor="end" >250</text>
<line x1="394.30" y1="253.51" x2="396.10" y2="253.51" stroke="#444" stroke-width="0.6" />
<text x="392.5" y="254.71" font-size="3.4" font-weight="normal" fill="#666" text-anchor="end" >300</text>
<line x1="394.30" y1="240.20" x2="396.10" y2="240.20" stroke="#444" stroke-width="0.6" />
<text x="392.5" y="241.4" font-size="3.4" font-weight="normal" fill="#666" text-anchor="end" >350</text>
<text transform="translate(382.9,286.8) rotate(-90)" font-size="4.2" font-weight="bold" fill="#111" text-anchor="middle">Transcript per million</text>
<rect x="409.80" y="331.80" width="24.10" height="1.20" fill="#222" />
<line x1="409.80" y1="332.40" x2="433.90" y2="332.40" stroke="#3a1a08" stroke-width="1.0" />
<line x1="471.10" y1="273.00" x2="471.10" y2="308.50" stroke="#333" stroke-width="0.75" stroke-dasharray="1 0.55"/>
<line x1="465.40" y1="273.00" x2="476.80" y2="273.00" stroke="#222" stroke-width="0.8" />
<line x1="471.10" y1="325.60" x2="471.10" y2="333.00" stroke="#333" stroke-width="0.75" stroke-dasharray="1 0.55"/>
<line x1="465.40" y1="333.00" x2="476.80" y2="333.00" stroke="#222" stroke-width="0.8" />
<rect x="459.00" y="308.50" width="24.20" height="17.10" fill="#f03c12" />
<line x1="459.00" y1="317.70" x2="483.20" y2="317.70" stroke="#3a1a08" stroke-width="1.0" />
<line x1="521.05" y1="254.40" x2="521.05" y2="295.40" stroke="#333" stroke-width="0.75" stroke-dasharray="1 0.55"/>
<line x1="515.35" y1="254.40" x2="526.75" y2="254.40" stroke="#222" stroke-width="0.8" />
<line x1="521.05" y1="326.00" x2="521.05" y2="332.70" stroke="#333" stroke-width="0.75" stroke-dasharray="1 0.55"/>
<line x1="515.35" y1="332.70" x2="526.75" y2="332.70" stroke="#222" stroke-width="0.8" />
<rect x="508.90" y="295.40" width="24.30" height="30.60" fill="#f28c1e" />
<line x1="508.90" y1="315.40" x2="533.20" y2="315.40" stroke="#3a1a08" stroke-width="1.0" />
<line x1="432.30" y1="245.80" x2="520.80" y2="245.80" stroke="#777" stroke-width="0.5" />
<text x="478.7" y="245.05" font-size="4.8" font-weight="normal" fill="#111" text-anchor="middle" letter-spacing="1.15" font-weight="bold" stroke="#111" stroke-width="0.25">✱✱✱✱</text>
<line x1="423.50" y1="267.30" x2="474.20" y2="267.30" stroke="#777" stroke-width="0.5" />
<text x="450.4" y="264.45" font-size="4.8" font-weight="normal" fill="#111" text-anchor="middle" letter-spacing="1.15" font-weight="bold" stroke="#111" stroke-width="0.25">✱✱✱✱</text>
<text x="421.5" y="338.8" font-size="3.35" font-weight="normal" fill="#808080" text-anchor="middle" >Normal</text>
<text x="421.5" y="342.7" font-size="3.35" font-weight="normal" fill="#808080" text-anchor="middle" >(n=41)</text>
<text x="471.3" y="338.8" font-size="3.35" font-weight="normal" fill="#808080" text-anchor="middle" >TP53-Mutant</text>
<text x="471.3" y="342.7" font-size="3.35" font-weight="normal" fill="#808080" text-anchor="middle" >(n=160)</text>
<text x="520.8" y="338.8" font-size="3.35" font-weight="normal" fill="#808080" text-anchor="middle" >TP53-NonMutant</text>
<text x="520.8" y="342.7" font-size="3.35" font-weight="normal" fill="#808080" text-anchor="middle" >(n=122)</text>
<text x="471.3" y="350.2" font-size="4.1" font-weight="bold" fill="#111" text-anchor="middle" >TCGA samples</text>
</svg>
</body></html>
